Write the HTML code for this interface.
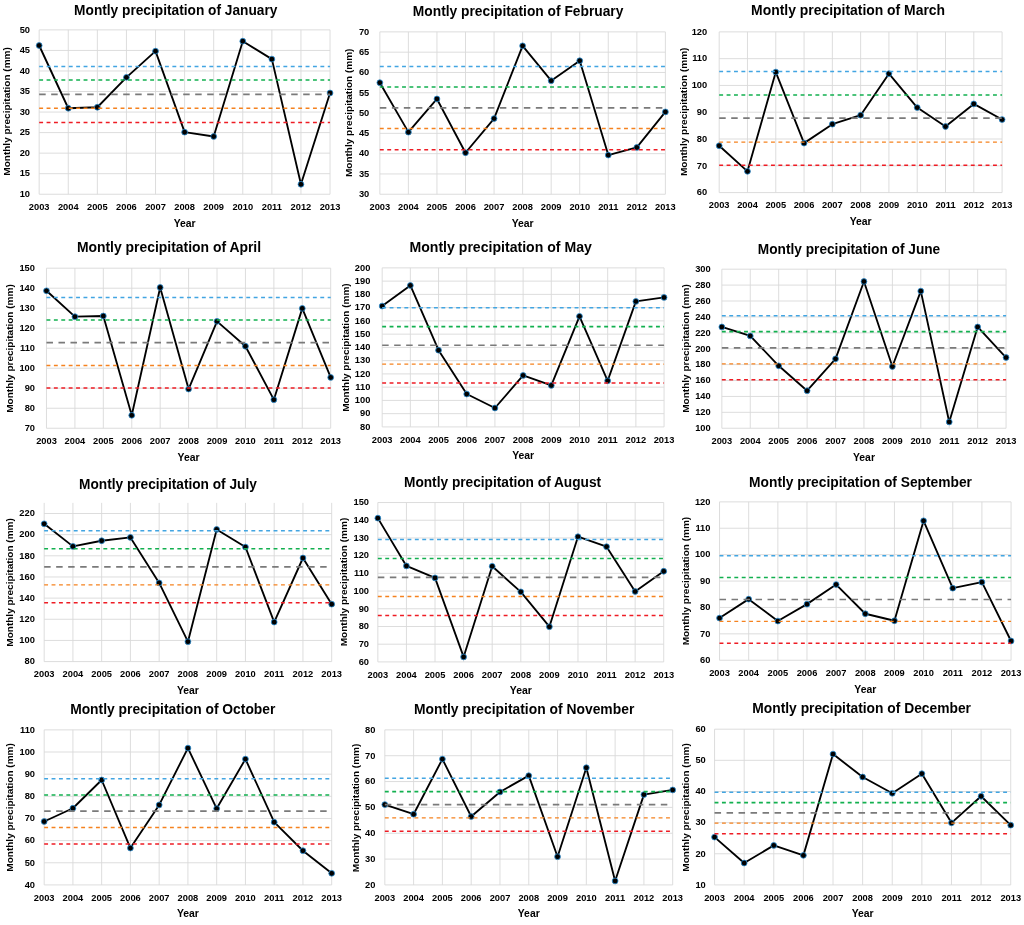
<!DOCTYPE html>
<html><head><meta charset="utf-8"><title>Monthly precipitation</title>
<style>
html,body{margin:0;padding:0;background:#fff;}
body{width:1024px;height:925px;overflow:hidden;}
svg{display:block;}
.gr{stroke:#d9d9d9;stroke-width:0.9;}
.tk{font-family:"Liberation Sans", Arial, sans-serif;font-weight:bold;font-size:9.3px;fill:#000;}
.yr{font-family:"Liberation Sans", Arial, sans-serif;font-weight:bold;font-size:10.4px;fill:#000;}
.yt{font-family:"Liberation Sans", Arial, sans-serif;font-weight:bold;font-size:9.3px;fill:#000;}
.ti{font-family:"Liberation Sans", Arial, sans-serif;font-weight:bold;font-size:14px;fill:#000;}
.ln{fill:none;stroke:#000;stroke-width:1.85;stroke-linejoin:round;}
.mk{fill:#000;stroke:#2a8fd6;stroke-width:0.8;}
</style></head>
<body>
<svg width="1024" height="925" viewBox="0 0 1024 925">
<rect width="1024" height="925" fill="#fff"/>
<g><line x1="39.18" y1="194.24" x2="330.04" y2="194.24" class="gr"/>
<line x1="39.18" y1="173.69" x2="330.04" y2="173.69" class="gr"/>
<line x1="39.18" y1="153.15" x2="330.04" y2="153.15" class="gr"/>
<line x1="39.18" y1="132.6" x2="330.04" y2="132.6" class="gr"/>
<line x1="39.18" y1="112.06" x2="330.04" y2="112.06" class="gr"/>
<line x1="39.18" y1="91.52" x2="330.04" y2="91.52" class="gr"/>
<line x1="39.18" y1="70.97" x2="330.04" y2="70.97" class="gr"/>
<line x1="39.18" y1="50.43" x2="330.04" y2="50.43" class="gr"/>
<line x1="39.18" y1="29.88" x2="330.04" y2="29.88" class="gr"/>
<line x1="39.18" y1="29.88" x2="39.18" y2="194.24" class="gr"/>
<line x1="68.27" y1="29.88" x2="68.27" y2="194.24" class="gr"/>
<line x1="97.35" y1="29.88" x2="97.35" y2="194.24" class="gr"/>
<line x1="126.44" y1="29.88" x2="126.44" y2="194.24" class="gr"/>
<line x1="155.52" y1="29.88" x2="155.52" y2="194.24" class="gr"/>
<line x1="184.61" y1="29.88" x2="184.61" y2="194.24" class="gr"/>
<line x1="213.7" y1="29.88" x2="213.7" y2="194.24" class="gr"/>
<line x1="242.78" y1="29.88" x2="242.78" y2="194.24" class="gr"/>
<line x1="271.87" y1="29.88" x2="271.87" y2="194.24" class="gr"/>
<line x1="300.95" y1="29.88" x2="300.95" y2="194.24" class="gr"/>
<line x1="330.04" y1="29.88" x2="330.04" y2="194.24" class="gr"/>
<text x="29.98" y="197.04" class="tk" text-anchor="end">10</text>
<text x="29.98" y="176.49" class="tk" text-anchor="end">15</text>
<text x="29.98" y="155.95" class="tk" text-anchor="end">20</text>
<text x="29.98" y="135.4" class="tk" text-anchor="end">25</text>
<text x="29.98" y="114.86" class="tk" text-anchor="end">30</text>
<text x="29.98" y="94.32" class="tk" text-anchor="end">35</text>
<text x="29.98" y="73.77" class="tk" text-anchor="end">40</text>
<text x="29.98" y="53.23" class="tk" text-anchor="end">45</text>
<text x="29.98" y="32.68" class="tk" text-anchor="end">50</text>
<text x="39.18" y="209.84" class="tk" text-anchor="middle">2003</text>
<text x="68.27" y="209.84" class="tk" text-anchor="middle">2004</text>
<text x="97.35" y="209.84" class="tk" text-anchor="middle">2005</text>
<text x="126.44" y="209.84" class="tk" text-anchor="middle">2006</text>
<text x="155.52" y="209.84" class="tk" text-anchor="middle">2007</text>
<text x="184.61" y="209.84" class="tk" text-anchor="middle">2008</text>
<text x="213.7" y="209.84" class="tk" text-anchor="middle">2009</text>
<text x="242.78" y="209.84" class="tk" text-anchor="middle">2010</text>
<text x="271.87" y="209.84" class="tk" text-anchor="middle">2011</text>
<text x="300.95" y="209.84" class="tk" text-anchor="middle">2012</text>
<text x="330.04" y="209.84" class="tk" text-anchor="middle">2013</text>
<text x="184.61" y="226.74" class="yr" text-anchor="middle">Year</text>
<text transform="translate(9.8 111.4) rotate(-90)" class="yt" text-anchor="middle" textLength="128.5" lengthAdjust="spacingAndGlyphs">Monthly precipitation (mm)</text>
<text x="74.1" y="14.5" class="ti" textLength="203.3" lengthAdjust="spacingAndGlyphs">Montly precipitation of January</text>
<polyline points="39.18,45.49 68.27,108.24 97.35,107.25 126.44,77.36 155.52,51.13 184.61,132.15 213.7,136.46 242.78,41.17 271.87,59.1 300.95,184.28 330.04,92.97" class="ln"/>
<circle cx="39.18" cy="45.49" r="2.9" class="mk"/>
<circle cx="68.27" cy="108.24" r="2.9" class="mk"/>
<circle cx="97.35" cy="107.25" r="2.9" class="mk"/>
<circle cx="126.44" cy="77.36" r="2.9" class="mk"/>
<circle cx="155.52" cy="51.13" r="2.9" class="mk"/>
<circle cx="184.61" cy="132.15" r="2.9" class="mk"/>
<circle cx="213.7" cy="136.46" r="2.9" class="mk"/>
<circle cx="242.78" cy="41.17" r="2.9" class="mk"/>
<circle cx="271.87" cy="59.1" r="2.9" class="mk"/>
<circle cx="300.95" cy="184.28" r="2.9" class="mk"/>
<circle cx="330.04" cy="92.97" r="2.9" class="mk"/>
<line x1="39.18" y1="66.41" x2="330.04" y2="66.41" stroke="#42a5e2" stroke-width="1.5" stroke-dasharray="3.9 3.5"/>
<line x1="39.18" y1="80.02" x2="330.04" y2="80.02" stroke="#12b04f" stroke-width="1.6" stroke-dasharray="3.9 3.5"/>
<line x1="39.18" y1="94.3" x2="330.04" y2="94.3" stroke="#7a7a7a" stroke-width="1.7" stroke-dasharray="6.5 5.5"/>
<line x1="39.18" y1="108.24" x2="330.04" y2="108.24" stroke="#f5821f" stroke-width="1.4" stroke-dasharray="3.9 3.5"/>
<line x1="39.18" y1="122.52" x2="330.04" y2="122.52" stroke="#ee1c24" stroke-width="1.5" stroke-dasharray="3.9 3.5"/></g>
<g><line x1="379.84" y1="194.24" x2="665.39" y2="194.24" class="gr"/>
<line x1="379.84" y1="173.94" x2="665.39" y2="173.94" class="gr"/>
<line x1="379.84" y1="153.65" x2="665.39" y2="153.65" class="gr"/>
<line x1="379.84" y1="133.35" x2="665.39" y2="133.35" class="gr"/>
<line x1="379.84" y1="113.06" x2="665.39" y2="113.06" class="gr"/>
<line x1="379.84" y1="92.76" x2="665.39" y2="92.76" class="gr"/>
<line x1="379.84" y1="72.47" x2="665.39" y2="72.47" class="gr"/>
<line x1="379.84" y1="52.17" x2="665.39" y2="52.17" class="gr"/>
<line x1="379.84" y1="31.88" x2="665.39" y2="31.88" class="gr"/>
<line x1="379.84" y1="31.88" x2="379.84" y2="194.24" class="gr"/>
<line x1="408.4" y1="31.88" x2="408.4" y2="194.24" class="gr"/>
<line x1="436.95" y1="31.88" x2="436.95" y2="194.24" class="gr"/>
<line x1="465.51" y1="31.88" x2="465.51" y2="194.24" class="gr"/>
<line x1="494.06" y1="31.88" x2="494.06" y2="194.24" class="gr"/>
<line x1="522.62" y1="31.88" x2="522.62" y2="194.24" class="gr"/>
<line x1="551.17" y1="31.88" x2="551.17" y2="194.24" class="gr"/>
<line x1="579.73" y1="31.88" x2="579.73" y2="194.24" class="gr"/>
<line x1="608.28" y1="31.88" x2="608.28" y2="194.24" class="gr"/>
<line x1="636.84" y1="31.88" x2="636.84" y2="194.24" class="gr"/>
<line x1="665.39" y1="31.88" x2="665.39" y2="194.24" class="gr"/>
<text x="369.24" y="197.04" class="tk" text-anchor="end">30</text>
<text x="369.24" y="176.74" class="tk" text-anchor="end">35</text>
<text x="369.24" y="156.45" class="tk" text-anchor="end">40</text>
<text x="369.24" y="136.15" class="tk" text-anchor="end">45</text>
<text x="369.24" y="115.86" class="tk" text-anchor="end">50</text>
<text x="369.24" y="95.56" class="tk" text-anchor="end">55</text>
<text x="369.24" y="75.27" class="tk" text-anchor="end">60</text>
<text x="369.24" y="54.97" class="tk" text-anchor="end">65</text>
<text x="369.24" y="34.67" class="tk" text-anchor="end">70</text>
<text x="379.84" y="209.84" class="tk" text-anchor="middle">2003</text>
<text x="408.4" y="209.84" class="tk" text-anchor="middle">2004</text>
<text x="436.95" y="209.84" class="tk" text-anchor="middle">2005</text>
<text x="465.51" y="209.84" class="tk" text-anchor="middle">2006</text>
<text x="494.06" y="209.84" class="tk" text-anchor="middle">2007</text>
<text x="522.62" y="209.84" class="tk" text-anchor="middle">2008</text>
<text x="551.17" y="209.84" class="tk" text-anchor="middle">2009</text>
<text x="579.73" y="209.84" class="tk" text-anchor="middle">2010</text>
<text x="608.28" y="209.84" class="tk" text-anchor="middle">2011</text>
<text x="636.84" y="209.84" class="tk" text-anchor="middle">2012</text>
<text x="665.39" y="209.84" class="tk" text-anchor="middle">2013</text>
<text x="522.62" y="226.74" class="yr" text-anchor="middle">Year</text>
<text transform="translate(351.5 112.8) rotate(-90)" class="yt" text-anchor="middle" textLength="128.5" lengthAdjust="spacingAndGlyphs">Monthly precipitation (mm)</text>
<text x="412.85" y="16" class="ti" textLength="210.55" lengthAdjust="spacingAndGlyphs">Montly precipitation of February</text>
<polyline points="379.84,82.68 408.4,132.15 436.95,98.95 465.51,152.73 494.06,118.54 522.62,45.82 551.17,80.68 579.73,60.76 608.28,155.06 636.84,147.42 665.39,111.89" class="ln"/>
<circle cx="379.84" cy="82.68" r="2.9" class="mk"/>
<circle cx="408.4" cy="132.15" r="2.9" class="mk"/>
<circle cx="436.95" cy="98.95" r="2.9" class="mk"/>
<circle cx="465.51" cy="152.73" r="2.9" class="mk"/>
<circle cx="494.06" cy="118.54" r="2.9" class="mk"/>
<circle cx="522.62" cy="45.82" r="2.9" class="mk"/>
<circle cx="551.17" cy="80.68" r="2.9" class="mk"/>
<circle cx="579.73" cy="60.76" r="2.9" class="mk"/>
<circle cx="608.28" cy="155.06" r="2.9" class="mk"/>
<circle cx="636.84" cy="147.42" r="2.9" class="mk"/>
<circle cx="665.39" cy="111.89" r="2.9" class="mk"/>
<line x1="379.84" y1="66.41" x2="665.39" y2="66.41" stroke="#42a5e2" stroke-width="1.5" stroke-dasharray="3.9 3.5"/>
<line x1="379.84" y1="86.99" x2="665.39" y2="86.99" stroke="#12b04f" stroke-width="1.6" stroke-dasharray="3.9 3.5"/>
<line x1="379.84" y1="107.91" x2="665.39" y2="107.91" stroke="#7a7a7a" stroke-width="1.7" stroke-dasharray="6.5 5.5"/>
<line x1="379.84" y1="128.5" x2="665.39" y2="128.5" stroke="#f5821f" stroke-width="1.4" stroke-dasharray="3.9 3.5"/>
<line x1="379.84" y1="149.75" x2="665.39" y2="149.75" stroke="#ee1c24" stroke-width="1.5" stroke-dasharray="3.9 3.5"/></g>
<g><line x1="719.2" y1="192.58" x2="1002.09" y2="192.58" class="gr"/>
<line x1="719.2" y1="165.79" x2="1002.09" y2="165.79" class="gr"/>
<line x1="719.2" y1="139.01" x2="1002.09" y2="139.01" class="gr"/>
<line x1="719.2" y1="112.23" x2="1002.09" y2="112.23" class="gr"/>
<line x1="719.2" y1="85.44" x2="1002.09" y2="85.44" class="gr"/>
<line x1="719.2" y1="58.66" x2="1002.09" y2="58.66" class="gr"/>
<line x1="719.2" y1="31.88" x2="1002.09" y2="31.88" class="gr"/>
<line x1="719.2" y1="31.88" x2="719.2" y2="192.58" class="gr"/>
<line x1="747.48" y1="31.88" x2="747.48" y2="192.58" class="gr"/>
<line x1="775.77" y1="31.88" x2="775.77" y2="192.58" class="gr"/>
<line x1="804.06" y1="31.88" x2="804.06" y2="192.58" class="gr"/>
<line x1="832.35" y1="31.88" x2="832.35" y2="192.58" class="gr"/>
<line x1="860.64" y1="31.88" x2="860.64" y2="192.58" class="gr"/>
<line x1="888.93" y1="31.88" x2="888.93" y2="192.58" class="gr"/>
<line x1="917.22" y1="31.88" x2="917.22" y2="192.58" class="gr"/>
<line x1="945.51" y1="31.88" x2="945.51" y2="192.58" class="gr"/>
<line x1="973.8" y1="31.88" x2="973.8" y2="192.58" class="gr"/>
<line x1="1002.09" y1="31.88" x2="1002.09" y2="192.58" class="gr"/>
<text x="707.2" y="195.38" class="tk" text-anchor="end">60</text>
<text x="707.2" y="168.59" class="tk" text-anchor="end">70</text>
<text x="707.2" y="141.81" class="tk" text-anchor="end">80</text>
<text x="707.2" y="115.03" class="tk" text-anchor="end">90</text>
<text x="707.2" y="88.24" class="tk" text-anchor="end">100</text>
<text x="707.2" y="61.46" class="tk" text-anchor="end">110</text>
<text x="707.2" y="34.67" class="tk" text-anchor="end">120</text>
<text x="719.2" y="208.18" class="tk" text-anchor="middle">2003</text>
<text x="747.48" y="208.18" class="tk" text-anchor="middle">2004</text>
<text x="775.77" y="208.18" class="tk" text-anchor="middle">2005</text>
<text x="804.06" y="208.18" class="tk" text-anchor="middle">2006</text>
<text x="832.35" y="208.18" class="tk" text-anchor="middle">2007</text>
<text x="860.64" y="208.18" class="tk" text-anchor="middle">2008</text>
<text x="888.93" y="208.18" class="tk" text-anchor="middle">2009</text>
<text x="917.22" y="208.18" class="tk" text-anchor="middle">2010</text>
<text x="945.51" y="208.18" class="tk" text-anchor="middle">2011</text>
<text x="973.8" y="208.18" class="tk" text-anchor="middle">2012</text>
<text x="1002.09" y="208.18" class="tk" text-anchor="middle">2013</text>
<text x="860.64" y="225.08" class="yr" text-anchor="middle">Year</text>
<text transform="translate(686.7 111.8) rotate(-90)" class="yt" text-anchor="middle" textLength="128.5" lengthAdjust="spacingAndGlyphs">Monthly precipitation (mm)</text>
<text x="751.1" y="15" class="ti" textLength="194" lengthAdjust="spacingAndGlyphs">Montly precipitation of March</text>
<polyline points="719.2,145.76 747.48,171.33 775.77,72.05 804.06,143.11 832.35,124.18 860.64,115.21 888.93,73.71 917.22,107.58 945.51,126.5 973.8,103.93 1002.09,119.53" class="ln"/>
<circle cx="719.2" cy="145.76" r="2.9" class="mk"/>
<circle cx="747.48" cy="171.33" r="2.9" class="mk"/>
<circle cx="775.77" cy="72.05" r="2.9" class="mk"/>
<circle cx="804.06" cy="143.11" r="2.9" class="mk"/>
<circle cx="832.35" cy="124.18" r="2.9" class="mk"/>
<circle cx="860.64" cy="115.21" r="2.9" class="mk"/>
<circle cx="888.93" cy="73.71" r="2.9" class="mk"/>
<circle cx="917.22" cy="107.58" r="2.9" class="mk"/>
<circle cx="945.51" cy="126.5" r="2.9" class="mk"/>
<circle cx="973.8" cy="103.93" r="2.9" class="mk"/>
<circle cx="1002.09" cy="119.53" r="2.9" class="mk"/>
<line x1="719.2" y1="71.39" x2="1002.09" y2="71.39" stroke="#42a5e2" stroke-width="1.5" stroke-dasharray="3.9 3.5"/>
<line x1="719.2" y1="94.96" x2="1002.09" y2="94.96" stroke="#12b04f" stroke-width="1.6" stroke-dasharray="3.9 3.5"/>
<line x1="719.2" y1="118.2" x2="1002.09" y2="118.2" stroke="#7a7a7a" stroke-width="1.7" stroke-dasharray="6.5 5.5"/>
<line x1="719.2" y1="142.11" x2="1002.09" y2="142.11" stroke="#f5821f" stroke-width="1.4" stroke-dasharray="3.9 3.5"/>
<line x1="719.2" y1="165.35" x2="1002.09" y2="165.35" stroke="#ee1c24" stroke-width="1.5" stroke-dasharray="3.9 3.5"/></g>
<g><line x1="46.48" y1="428.24" x2="330.7" y2="428.24" class="gr"/>
<line x1="46.48" y1="408.24" x2="330.7" y2="408.24" class="gr"/>
<line x1="46.48" y1="388.23" x2="330.7" y2="388.23" class="gr"/>
<line x1="46.48" y1="368.23" x2="330.7" y2="368.23" class="gr"/>
<line x1="46.48" y1="348.22" x2="330.7" y2="348.22" class="gr"/>
<line x1="46.48" y1="328.22" x2="330.7" y2="328.22" class="gr"/>
<line x1="46.48" y1="308.21" x2="330.7" y2="308.21" class="gr"/>
<line x1="46.48" y1="288.21" x2="330.7" y2="288.21" class="gr"/>
<line x1="46.48" y1="268.2" x2="330.7" y2="268.2" class="gr"/>
<line x1="46.48" y1="268.2" x2="46.48" y2="428.24" class="gr"/>
<line x1="74.91" y1="268.2" x2="74.91" y2="428.24" class="gr"/>
<line x1="103.33" y1="268.2" x2="103.33" y2="428.24" class="gr"/>
<line x1="131.75" y1="268.2" x2="131.75" y2="428.24" class="gr"/>
<line x1="160.17" y1="268.2" x2="160.17" y2="428.24" class="gr"/>
<line x1="188.59" y1="268.2" x2="188.59" y2="428.24" class="gr"/>
<line x1="217.02" y1="268.2" x2="217.02" y2="428.24" class="gr"/>
<line x1="245.44" y1="268.2" x2="245.44" y2="428.24" class="gr"/>
<line x1="273.86" y1="268.2" x2="273.86" y2="428.24" class="gr"/>
<line x1="302.28" y1="268.2" x2="302.28" y2="428.24" class="gr"/>
<line x1="330.7" y1="268.2" x2="330.7" y2="428.24" class="gr"/>
<text x="34.98" y="431.04" class="tk" text-anchor="end">70</text>
<text x="34.98" y="411.04" class="tk" text-anchor="end">80</text>
<text x="34.98" y="391.03" class="tk" text-anchor="end">90</text>
<text x="34.98" y="371.03" class="tk" text-anchor="end">100</text>
<text x="34.98" y="351.02" class="tk" text-anchor="end">110</text>
<text x="34.98" y="331.02" class="tk" text-anchor="end">120</text>
<text x="34.98" y="311.01" class="tk" text-anchor="end">130</text>
<text x="34.98" y="291.01" class="tk" text-anchor="end">140</text>
<text x="34.98" y="271" class="tk" text-anchor="end">150</text>
<text x="46.48" y="443.84" class="tk" text-anchor="middle">2003</text>
<text x="74.91" y="443.84" class="tk" text-anchor="middle">2004</text>
<text x="103.33" y="443.84" class="tk" text-anchor="middle">2005</text>
<text x="131.75" y="443.84" class="tk" text-anchor="middle">2006</text>
<text x="160.17" y="443.84" class="tk" text-anchor="middle">2007</text>
<text x="188.59" y="443.84" class="tk" text-anchor="middle">2008</text>
<text x="217.02" y="443.84" class="tk" text-anchor="middle">2009</text>
<text x="245.44" y="443.84" class="tk" text-anchor="middle">2010</text>
<text x="273.86" y="443.84" class="tk" text-anchor="middle">2011</text>
<text x="302.28" y="443.84" class="tk" text-anchor="middle">2012</text>
<text x="330.7" y="443.84" class="tk" text-anchor="middle">2013</text>
<text x="188.59" y="460.74" class="yr" text-anchor="middle">Year</text>
<text transform="translate(13.3 348.5) rotate(-90)" class="yt" text-anchor="middle" textLength="128.5" lengthAdjust="spacingAndGlyphs">Monthly precipitation (mm)</text>
<text x="76.9" y="252.2" class="ti" textLength="184.2" lengthAdjust="spacingAndGlyphs">Montly precipitation of April</text>
<polyline points="46.48,290.78 74.91,316.68 103.33,316.02 131.75,415.29 160.17,287.46 188.59,389.06 217.02,321.33 245.44,346.23 273.86,399.69 302.28,308.38 330.7,377.44" class="ln"/>
<circle cx="46.48" cy="290.78" r="2.9" class="mk"/>
<circle cx="74.91" cy="316.68" r="2.9" class="mk"/>
<circle cx="103.33" cy="316.02" r="2.9" class="mk"/>
<circle cx="131.75" cy="415.29" r="2.9" class="mk"/>
<circle cx="160.17" cy="287.46" r="2.9" class="mk"/>
<circle cx="188.59" cy="389.06" r="2.9" class="mk"/>
<circle cx="217.02" cy="321.33" r="2.9" class="mk"/>
<circle cx="245.44" cy="346.23" r="2.9" class="mk"/>
<circle cx="273.86" cy="399.69" r="2.9" class="mk"/>
<circle cx="302.28" cy="308.38" r="2.9" class="mk"/>
<circle cx="330.7" cy="377.44" r="2.9" class="mk"/>
<line x1="46.48" y1="297.42" x2="330.7" y2="297.42" stroke="#42a5e2" stroke-width="1.5" stroke-dasharray="3.9 3.5"/>
<line x1="46.48" y1="320" x2="330.7" y2="320" stroke="#12b04f" stroke-width="1.6" stroke-dasharray="3.9 3.5"/>
<line x1="46.48" y1="342.58" x2="330.7" y2="342.58" stroke="#7a7a7a" stroke-width="1.7" stroke-dasharray="6.5 5.5"/>
<line x1="46.48" y1="365.49" x2="330.7" y2="365.49" stroke="#f5821f" stroke-width="1.4" stroke-dasharray="3.9 3.5"/>
<line x1="46.48" y1="388.07" x2="330.7" y2="388.07" stroke="#ee1c24" stroke-width="1.5" stroke-dasharray="3.9 3.5"/></g>
<g><line x1="382.17" y1="426.91" x2="664.06" y2="426.91" class="gr"/>
<line x1="382.17" y1="413.66" x2="664.06" y2="413.66" class="gr"/>
<line x1="382.17" y1="400.41" x2="664.06" y2="400.41" class="gr"/>
<line x1="382.17" y1="387.15" x2="664.06" y2="387.15" class="gr"/>
<line x1="382.17" y1="373.9" x2="664.06" y2="373.9" class="gr"/>
<line x1="382.17" y1="360.65" x2="664.06" y2="360.65" class="gr"/>
<line x1="382.17" y1="347.39" x2="664.06" y2="347.39" class="gr"/>
<line x1="382.17" y1="334.14" x2="664.06" y2="334.14" class="gr"/>
<line x1="382.17" y1="320.89" x2="664.06" y2="320.89" class="gr"/>
<line x1="382.17" y1="307.63" x2="664.06" y2="307.63" class="gr"/>
<line x1="382.17" y1="294.38" x2="664.06" y2="294.38" class="gr"/>
<line x1="382.17" y1="281.12" x2="664.06" y2="281.12" class="gr"/>
<line x1="382.17" y1="267.87" x2="664.06" y2="267.87" class="gr"/>
<line x1="382.17" y1="267.87" x2="382.17" y2="426.91" class="gr"/>
<line x1="410.36" y1="267.87" x2="410.36" y2="426.91" class="gr"/>
<line x1="438.55" y1="267.87" x2="438.55" y2="426.91" class="gr"/>
<line x1="466.74" y1="267.87" x2="466.74" y2="426.91" class="gr"/>
<line x1="494.93" y1="267.87" x2="494.93" y2="426.91" class="gr"/>
<line x1="523.12" y1="267.87" x2="523.12" y2="426.91" class="gr"/>
<line x1="551.3" y1="267.87" x2="551.3" y2="426.91" class="gr"/>
<line x1="579.49" y1="267.87" x2="579.49" y2="426.91" class="gr"/>
<line x1="607.68" y1="267.87" x2="607.68" y2="426.91" class="gr"/>
<line x1="635.87" y1="267.87" x2="635.87" y2="426.91" class="gr"/>
<line x1="664.06" y1="267.87" x2="664.06" y2="426.91" class="gr"/>
<text x="370.37" y="429.71" class="tk" text-anchor="end">80</text>
<text x="370.37" y="416.46" class="tk" text-anchor="end">90</text>
<text x="370.37" y="403.21" class="tk" text-anchor="end">100</text>
<text x="370.37" y="389.95" class="tk" text-anchor="end">110</text>
<text x="370.37" y="376.7" class="tk" text-anchor="end">120</text>
<text x="370.37" y="363.45" class="tk" text-anchor="end">130</text>
<text x="370.37" y="350.19" class="tk" text-anchor="end">140</text>
<text x="370.37" y="336.94" class="tk" text-anchor="end">150</text>
<text x="370.37" y="323.69" class="tk" text-anchor="end">160</text>
<text x="370.37" y="310.43" class="tk" text-anchor="end">170</text>
<text x="370.37" y="297.18" class="tk" text-anchor="end">180</text>
<text x="370.37" y="283.92" class="tk" text-anchor="end">190</text>
<text x="370.37" y="270.67" class="tk" text-anchor="end">200</text>
<text x="382.17" y="442.51" class="tk" text-anchor="middle">2003</text>
<text x="410.36" y="442.51" class="tk" text-anchor="middle">2004</text>
<text x="438.55" y="442.51" class="tk" text-anchor="middle">2005</text>
<text x="466.74" y="442.51" class="tk" text-anchor="middle">2006</text>
<text x="494.93" y="442.51" class="tk" text-anchor="middle">2007</text>
<text x="523.12" y="442.51" class="tk" text-anchor="middle">2008</text>
<text x="551.3" y="442.51" class="tk" text-anchor="middle">2009</text>
<text x="579.49" y="442.51" class="tk" text-anchor="middle">2010</text>
<text x="607.68" y="442.51" class="tk" text-anchor="middle">2011</text>
<text x="635.87" y="442.51" class="tk" text-anchor="middle">2012</text>
<text x="664.06" y="442.51" class="tk" text-anchor="middle">2013</text>
<text x="523.12" y="459.41" class="yr" text-anchor="middle">Year</text>
<text transform="translate(349.1 347.6) rotate(-90)" class="yt" text-anchor="middle" textLength="128.5" lengthAdjust="spacingAndGlyphs">Monthly precipitation (mm)</text>
<text x="409.5" y="252.2" class="ti" textLength="182.3" lengthAdjust="spacingAndGlyphs">Montly precipitation of May</text>
<polyline points="382.17,306.05 410.36,285.47 438.55,350.21 466.74,394.04 494.93,407.99 523.12,375.45 551.3,385.41 579.49,316.35 607.68,380.76 635.87,301.41 664.06,297.42" class="ln"/>
<circle cx="382.17" cy="306.05" r="2.9" class="mk"/>
<circle cx="410.36" cy="285.47" r="2.9" class="mk"/>
<circle cx="438.55" cy="350.21" r="2.9" class="mk"/>
<circle cx="466.74" cy="394.04" r="2.9" class="mk"/>
<circle cx="494.93" cy="407.99" r="2.9" class="mk"/>
<circle cx="523.12" cy="375.45" r="2.9" class="mk"/>
<circle cx="551.3" cy="385.41" r="2.9" class="mk"/>
<circle cx="579.49" cy="316.35" r="2.9" class="mk"/>
<circle cx="607.68" cy="380.76" r="2.9" class="mk"/>
<circle cx="635.87" cy="301.41" r="2.9" class="mk"/>
<circle cx="664.06" cy="297.42" r="2.9" class="mk"/>
<line x1="382.17" y1="307.71" x2="664.06" y2="307.71" stroke="#42a5e2" stroke-width="1.5" stroke-dasharray="3.9 3.5"/>
<line x1="382.17" y1="326.64" x2="664.06" y2="326.64" stroke="#12b04f" stroke-width="1.6" stroke-dasharray="3.9 3.5"/>
<line x1="382.17" y1="345.23" x2="664.06" y2="345.23" stroke="#7a7a7a" stroke-width="1.7" stroke-dasharray="6.5 5.5"/>
<line x1="382.17" y1="364.16" x2="664.06" y2="364.16" stroke="#f5821f" stroke-width="1.4" stroke-dasharray="3.9 3.5"/>
<line x1="382.17" y1="383.09" x2="664.06" y2="383.09" stroke="#ee1c24" stroke-width="1.5" stroke-dasharray="3.9 3.5"/></g>
<g><line x1="721.85" y1="428.24" x2="1006.07" y2="428.24" class="gr"/>
<line x1="721.85" y1="412.34" x2="1006.07" y2="412.34" class="gr"/>
<line x1="721.85" y1="396.43" x2="1006.07" y2="396.43" class="gr"/>
<line x1="721.85" y1="380.53" x2="1006.07" y2="380.53" class="gr"/>
<line x1="721.85" y1="364.62" x2="1006.07" y2="364.62" class="gr"/>
<line x1="721.85" y1="348.72" x2="1006.07" y2="348.72" class="gr"/>
<line x1="721.85" y1="332.82" x2="1006.07" y2="332.82" class="gr"/>
<line x1="721.85" y1="316.91" x2="1006.07" y2="316.91" class="gr"/>
<line x1="721.85" y1="301.01" x2="1006.07" y2="301.01" class="gr"/>
<line x1="721.85" y1="285.1" x2="1006.07" y2="285.1" class="gr"/>
<line x1="721.85" y1="269.2" x2="1006.07" y2="269.2" class="gr"/>
<line x1="721.85" y1="269.2" x2="721.85" y2="428.24" class="gr"/>
<line x1="750.27" y1="269.2" x2="750.27" y2="428.24" class="gr"/>
<line x1="778.7" y1="269.2" x2="778.7" y2="428.24" class="gr"/>
<line x1="807.12" y1="269.2" x2="807.12" y2="428.24" class="gr"/>
<line x1="835.54" y1="269.2" x2="835.54" y2="428.24" class="gr"/>
<line x1="863.96" y1="269.2" x2="863.96" y2="428.24" class="gr"/>
<line x1="892.38" y1="269.2" x2="892.38" y2="428.24" class="gr"/>
<line x1="920.8" y1="269.2" x2="920.8" y2="428.24" class="gr"/>
<line x1="949.23" y1="269.2" x2="949.23" y2="428.24" class="gr"/>
<line x1="977.65" y1="269.2" x2="977.65" y2="428.24" class="gr"/>
<line x1="1006.07" y1="269.2" x2="1006.07" y2="428.24" class="gr"/>
<text x="710.65" y="431.04" class="tk" text-anchor="end">100</text>
<text x="710.65" y="415.14" class="tk" text-anchor="end">120</text>
<text x="710.65" y="399.23" class="tk" text-anchor="end">140</text>
<text x="710.65" y="383.33" class="tk" text-anchor="end">160</text>
<text x="710.65" y="367.43" class="tk" text-anchor="end">180</text>
<text x="710.65" y="351.52" class="tk" text-anchor="end">200</text>
<text x="710.65" y="335.62" class="tk" text-anchor="end">220</text>
<text x="710.65" y="319.71" class="tk" text-anchor="end">240</text>
<text x="710.65" y="303.81" class="tk" text-anchor="end">260</text>
<text x="710.65" y="287.9" class="tk" text-anchor="end">280</text>
<text x="710.65" y="272" class="tk" text-anchor="end">300</text>
<text x="721.85" y="443.84" class="tk" text-anchor="middle">2003</text>
<text x="750.27" y="443.84" class="tk" text-anchor="middle">2004</text>
<text x="778.7" y="443.84" class="tk" text-anchor="middle">2005</text>
<text x="807.12" y="443.84" class="tk" text-anchor="middle">2006</text>
<text x="835.54" y="443.84" class="tk" text-anchor="middle">2007</text>
<text x="863.96" y="443.84" class="tk" text-anchor="middle">2008</text>
<text x="892.38" y="443.84" class="tk" text-anchor="middle">2009</text>
<text x="920.8" y="443.84" class="tk" text-anchor="middle">2010</text>
<text x="949.23" y="443.84" class="tk" text-anchor="middle">2011</text>
<text x="977.65" y="443.84" class="tk" text-anchor="middle">2012</text>
<text x="1006.07" y="443.84" class="tk" text-anchor="middle">2013</text>
<text x="863.96" y="460.74" class="yr" text-anchor="middle">Year</text>
<text transform="translate(688.9 348.5) rotate(-90)" class="yt" text-anchor="middle" textLength="128.5" lengthAdjust="spacingAndGlyphs">Monthly precipitation (mm)</text>
<text x="757.85" y="253.6" class="ti" textLength="182.35" lengthAdjust="spacingAndGlyphs">Montly precipitation of June</text>
<polyline points="721.85,326.97 750.27,335.94 778.7,365.82 807.12,390.72 835.54,358.85 863.96,281.48 892.38,366.48 920.8,291.11 949.23,421.93 977.65,326.97 1006.07,357.52" class="ln"/>
<circle cx="721.85" cy="326.97" r="2.9" class="mk"/>
<circle cx="750.27" cy="335.94" r="2.9" class="mk"/>
<circle cx="778.7" cy="365.82" r="2.9" class="mk"/>
<circle cx="807.12" cy="390.72" r="2.9" class="mk"/>
<circle cx="835.54" cy="358.85" r="2.9" class="mk"/>
<circle cx="863.96" cy="281.48" r="2.9" class="mk"/>
<circle cx="892.38" cy="366.48" r="2.9" class="mk"/>
<circle cx="920.8" cy="291.11" r="2.9" class="mk"/>
<circle cx="949.23" cy="421.93" r="2.9" class="mk"/>
<circle cx="977.65" cy="326.97" r="2.9" class="mk"/>
<circle cx="1006.07" cy="357.52" r="2.9" class="mk"/>
<line x1="721.85" y1="315.68" x2="1006.07" y2="315.68" stroke="#42a5e2" stroke-width="1.5" stroke-dasharray="3.9 3.5"/>
<line x1="721.85" y1="331.62" x2="1006.07" y2="331.62" stroke="#12b04f" stroke-width="1.6" stroke-dasharray="3.9 3.5"/>
<line x1="721.85" y1="347.89" x2="1006.07" y2="347.89" stroke="#7a7a7a" stroke-width="1.7" stroke-dasharray="6.5 5.5"/>
<line x1="721.85" y1="363.83" x2="1006.07" y2="363.83" stroke="#f5821f" stroke-width="1.4" stroke-dasharray="3.9 3.5"/>
<line x1="721.85" y1="379.77" x2="1006.07" y2="379.77" stroke="#ee1c24" stroke-width="1.5" stroke-dasharray="3.9 3.5"/></g>
<g><line x1="44.16" y1="661.59" x2="331.7" y2="661.59" class="gr"/>
<line x1="44.16" y1="640.43" x2="331.7" y2="640.43" class="gr"/>
<line x1="44.16" y1="619.28" x2="331.7" y2="619.28" class="gr"/>
<line x1="44.16" y1="598.12" x2="331.7" y2="598.12" class="gr"/>
<line x1="44.16" y1="576.97" x2="331.7" y2="576.97" class="gr"/>
<line x1="44.16" y1="555.81" x2="331.7" y2="555.81" class="gr"/>
<line x1="44.16" y1="534.66" x2="331.7" y2="534.66" class="gr"/>
<line x1="44.16" y1="513.5" x2="331.7" y2="513.5" class="gr"/>
<line x1="44.16" y1="502.88" x2="44.16" y2="661.59" class="gr"/>
<line x1="72.91" y1="502.88" x2="72.91" y2="661.59" class="gr"/>
<line x1="101.67" y1="502.88" x2="101.67" y2="661.59" class="gr"/>
<line x1="130.42" y1="502.88" x2="130.42" y2="661.59" class="gr"/>
<line x1="159.18" y1="502.88" x2="159.18" y2="661.59" class="gr"/>
<line x1="187.93" y1="502.88" x2="187.93" y2="661.59" class="gr"/>
<line x1="216.68" y1="502.88" x2="216.68" y2="661.59" class="gr"/>
<line x1="245.44" y1="502.88" x2="245.44" y2="661.59" class="gr"/>
<line x1="274.19" y1="502.88" x2="274.19" y2="661.59" class="gr"/>
<line x1="302.95" y1="502.88" x2="302.95" y2="661.59" class="gr"/>
<line x1="331.7" y1="502.88" x2="331.7" y2="661.59" class="gr"/>
<text x="34.86" y="664.39" class="tk" text-anchor="end">80</text>
<text x="34.86" y="643.23" class="tk" text-anchor="end">100</text>
<text x="34.86" y="622.08" class="tk" text-anchor="end">120</text>
<text x="34.86" y="600.92" class="tk" text-anchor="end">140</text>
<text x="34.86" y="579.77" class="tk" text-anchor="end">160</text>
<text x="34.86" y="558.61" class="tk" text-anchor="end">180</text>
<text x="34.86" y="537.46" class="tk" text-anchor="end">200</text>
<text x="34.86" y="516.3" class="tk" text-anchor="end">220</text>
<text x="44.16" y="677.19" class="tk" text-anchor="middle">2003</text>
<text x="72.91" y="677.19" class="tk" text-anchor="middle">2004</text>
<text x="101.67" y="677.19" class="tk" text-anchor="middle">2005</text>
<text x="130.42" y="677.19" class="tk" text-anchor="middle">2006</text>
<text x="159.18" y="677.19" class="tk" text-anchor="middle">2007</text>
<text x="187.93" y="677.19" class="tk" text-anchor="middle">2008</text>
<text x="216.68" y="677.19" class="tk" text-anchor="middle">2009</text>
<text x="245.44" y="677.19" class="tk" text-anchor="middle">2010</text>
<text x="274.19" y="677.19" class="tk" text-anchor="middle">2011</text>
<text x="302.95" y="677.19" class="tk" text-anchor="middle">2012</text>
<text x="331.7" y="677.19" class="tk" text-anchor="middle">2013</text>
<text x="187.93" y="694.09" class="yr" text-anchor="middle">Year</text>
<text transform="translate(13.4 582.4) rotate(-90)" class="yt" text-anchor="middle" textLength="128.5" lengthAdjust="spacingAndGlyphs">Monthly precipitation (mm)</text>
<text x="79.1" y="489.3" class="ti" textLength="177.7" lengthAdjust="spacingAndGlyphs">Montly precipitation of July</text>
<polyline points="44.16,523.8 72.91,546.38 101.67,540.73 130.42,537.41 159.18,582.9 187.93,641.67 216.68,529.44 245.44,547.04 274.19,622.08 302.95,558 331.7,604.15" class="ln"/>
<circle cx="44.16" cy="523.8" r="2.9" class="mk"/>
<circle cx="72.91" cy="546.38" r="2.9" class="mk"/>
<circle cx="101.67" cy="540.73" r="2.9" class="mk"/>
<circle cx="130.42" cy="537.41" r="2.9" class="mk"/>
<circle cx="159.18" cy="582.9" r="2.9" class="mk"/>
<circle cx="187.93" cy="641.67" r="2.9" class="mk"/>
<circle cx="216.68" cy="529.44" r="2.9" class="mk"/>
<circle cx="245.44" cy="547.04" r="2.9" class="mk"/>
<circle cx="274.19" cy="622.08" r="2.9" class="mk"/>
<circle cx="302.95" cy="558" r="2.9" class="mk"/>
<circle cx="331.7" cy="604.15" r="2.9" class="mk"/>
<line x1="44.16" y1="530.77" x2="331.7" y2="530.77" stroke="#42a5e2" stroke-width="1.5" stroke-dasharray="3.9 3.5"/>
<line x1="44.16" y1="548.7" x2="331.7" y2="548.7" stroke="#12b04f" stroke-width="1.6" stroke-dasharray="3.9 3.5"/>
<line x1="44.16" y1="566.96" x2="331.7" y2="566.96" stroke="#7a7a7a" stroke-width="1.7" stroke-dasharray="6.5 5.5"/>
<line x1="44.16" y1="584.89" x2="331.7" y2="584.89" stroke="#f5821f" stroke-width="1.4" stroke-dasharray="3.9 3.5"/>
<line x1="44.16" y1="602.82" x2="331.7" y2="602.82" stroke="#ee1c24" stroke-width="1.5" stroke-dasharray="3.9 3.5"/></g>
<g><line x1="377.85" y1="661.9" x2="663.73" y2="661.9" class="gr"/>
<line x1="377.85" y1="644.19" x2="663.73" y2="644.19" class="gr"/>
<line x1="377.85" y1="626.49" x2="663.73" y2="626.49" class="gr"/>
<line x1="377.85" y1="608.78" x2="663.73" y2="608.78" class="gr"/>
<line x1="377.85" y1="591.07" x2="663.73" y2="591.07" class="gr"/>
<line x1="377.85" y1="573.36" x2="663.73" y2="573.36" class="gr"/>
<line x1="377.85" y1="555.65" x2="663.73" y2="555.65" class="gr"/>
<line x1="377.85" y1="537.94" x2="663.73" y2="537.94" class="gr"/>
<line x1="377.85" y1="520.24" x2="663.73" y2="520.24" class="gr"/>
<line x1="377.85" y1="502.53" x2="663.73" y2="502.53" class="gr"/>
<line x1="377.85" y1="502.53" x2="377.85" y2="661.9" class="gr"/>
<line x1="406.44" y1="502.53" x2="406.44" y2="661.9" class="gr"/>
<line x1="435.03" y1="502.53" x2="435.03" y2="661.9" class="gr"/>
<line x1="463.62" y1="502.53" x2="463.62" y2="661.9" class="gr"/>
<line x1="492.2" y1="502.53" x2="492.2" y2="661.9" class="gr"/>
<line x1="520.79" y1="502.53" x2="520.79" y2="661.9" class="gr"/>
<line x1="549.38" y1="502.53" x2="549.38" y2="661.9" class="gr"/>
<line x1="577.97" y1="502.53" x2="577.97" y2="661.9" class="gr"/>
<line x1="606.55" y1="502.53" x2="606.55" y2="661.9" class="gr"/>
<line x1="635.14" y1="502.53" x2="635.14" y2="661.9" class="gr"/>
<line x1="663.73" y1="502.53" x2="663.73" y2="661.9" class="gr"/>
<text x="369.05" y="664.7" class="tk" text-anchor="end">60</text>
<text x="369.05" y="646.99" class="tk" text-anchor="end">70</text>
<text x="369.05" y="629.29" class="tk" text-anchor="end">80</text>
<text x="369.05" y="611.58" class="tk" text-anchor="end">90</text>
<text x="369.05" y="593.87" class="tk" text-anchor="end">100</text>
<text x="369.05" y="576.16" class="tk" text-anchor="end">110</text>
<text x="369.05" y="558.45" class="tk" text-anchor="end">120</text>
<text x="369.05" y="540.74" class="tk" text-anchor="end">130</text>
<text x="369.05" y="523.04" class="tk" text-anchor="end">140</text>
<text x="369.05" y="505.33" class="tk" text-anchor="end">150</text>
<text x="377.85" y="677.5" class="tk" text-anchor="middle">2003</text>
<text x="406.44" y="677.5" class="tk" text-anchor="middle">2004</text>
<text x="435.03" y="677.5" class="tk" text-anchor="middle">2005</text>
<text x="463.62" y="677.5" class="tk" text-anchor="middle">2006</text>
<text x="492.2" y="677.5" class="tk" text-anchor="middle">2007</text>
<text x="520.79" y="677.5" class="tk" text-anchor="middle">2008</text>
<text x="549.38" y="677.5" class="tk" text-anchor="middle">2009</text>
<text x="577.97" y="677.5" class="tk" text-anchor="middle">2010</text>
<text x="606.55" y="677.5" class="tk" text-anchor="middle">2011</text>
<text x="635.14" y="677.5" class="tk" text-anchor="middle">2012</text>
<text x="663.73" y="677.5" class="tk" text-anchor="middle">2013</text>
<text x="520.79" y="694.4" class="yr" text-anchor="middle">Year</text>
<text transform="translate(346.6 582) rotate(-90)" class="yt" text-anchor="middle" textLength="128.5" lengthAdjust="spacingAndGlyphs">Monthly precipitation (mm)</text>
<text x="404" y="486.5" class="ti" textLength="197.1" lengthAdjust="spacingAndGlyphs">Montly precipitation of August</text>
<polyline points="377.85,518.13 406.44,565.95 435.03,577.9 463.62,656.92 492.2,566.28 520.79,591.84 549.38,626.71 577.97,536.73 606.55,546.69 635.14,591.51 663.73,571.26" class="ln"/>
<circle cx="377.85" cy="518.13" r="2.9" class="mk"/>
<circle cx="406.44" cy="565.95" r="2.9" class="mk"/>
<circle cx="435.03" cy="577.9" r="2.9" class="mk"/>
<circle cx="463.62" cy="656.92" r="2.9" class="mk"/>
<circle cx="492.2" cy="566.28" r="2.9" class="mk"/>
<circle cx="520.79" cy="591.84" r="2.9" class="mk"/>
<circle cx="549.38" cy="626.71" r="2.9" class="mk"/>
<circle cx="577.97" cy="536.73" r="2.9" class="mk"/>
<circle cx="606.55" cy="546.69" r="2.9" class="mk"/>
<circle cx="635.14" cy="591.51" r="2.9" class="mk"/>
<circle cx="663.73" cy="571.26" r="2.9" class="mk"/>
<line x1="377.85" y1="539.55" x2="663.73" y2="539.55" stroke="#42a5e2" stroke-width="1.5" stroke-dasharray="3.9 3.5"/>
<line x1="377.85" y1="558.47" x2="663.73" y2="558.47" stroke="#12b04f" stroke-width="1.6" stroke-dasharray="3.9 3.5"/>
<line x1="377.85" y1="577.4" x2="663.73" y2="577.4" stroke="#7a7a7a" stroke-width="1.7" stroke-dasharray="6.5 5.5"/>
<line x1="377.85" y1="596.49" x2="663.73" y2="596.49" stroke="#f5821f" stroke-width="1.4" stroke-dasharray="3.9 3.5"/>
<line x1="377.85" y1="615.42" x2="663.73" y2="615.42" stroke="#ee1c24" stroke-width="1.5" stroke-dasharray="3.9 3.5"/></g>
<g><line x1="719.53" y1="660.24" x2="1011.05" y2="660.24" class="gr"/>
<line x1="719.53" y1="633.85" x2="1011.05" y2="633.85" class="gr"/>
<line x1="719.53" y1="607.45" x2="1011.05" y2="607.45" class="gr"/>
<line x1="719.53" y1="581.05" x2="1011.05" y2="581.05" class="gr"/>
<line x1="719.53" y1="554.66" x2="1011.05" y2="554.66" class="gr"/>
<line x1="719.53" y1="528.26" x2="1011.05" y2="528.26" class="gr"/>
<line x1="719.53" y1="501.86" x2="1011.05" y2="501.86" class="gr"/>
<line x1="719.53" y1="501.86" x2="719.53" y2="660.24" class="gr"/>
<line x1="748.68" y1="501.86" x2="748.68" y2="660.24" class="gr"/>
<line x1="777.83" y1="501.86" x2="777.83" y2="660.24" class="gr"/>
<line x1="806.98" y1="501.86" x2="806.98" y2="660.24" class="gr"/>
<line x1="836.14" y1="501.86" x2="836.14" y2="660.24" class="gr"/>
<line x1="865.29" y1="501.86" x2="865.29" y2="660.24" class="gr"/>
<line x1="894.44" y1="501.86" x2="894.44" y2="660.24" class="gr"/>
<line x1="923.59" y1="501.86" x2="923.59" y2="660.24" class="gr"/>
<line x1="952.75" y1="501.86" x2="952.75" y2="660.24" class="gr"/>
<line x1="981.9" y1="501.86" x2="981.9" y2="660.24" class="gr"/>
<line x1="1011.05" y1="501.86" x2="1011.05" y2="660.24" class="gr"/>
<text x="710.43" y="663.04" class="tk" text-anchor="end">60</text>
<text x="710.43" y="636.65" class="tk" text-anchor="end">70</text>
<text x="710.43" y="610.25" class="tk" text-anchor="end">80</text>
<text x="710.43" y="583.85" class="tk" text-anchor="end">90</text>
<text x="710.43" y="557.46" class="tk" text-anchor="end">100</text>
<text x="710.43" y="531.06" class="tk" text-anchor="end">110</text>
<text x="710.43" y="504.66" class="tk" text-anchor="end">120</text>
<text x="719.53" y="675.84" class="tk" text-anchor="middle">2003</text>
<text x="748.68" y="675.84" class="tk" text-anchor="middle">2004</text>
<text x="777.83" y="675.84" class="tk" text-anchor="middle">2005</text>
<text x="806.98" y="675.84" class="tk" text-anchor="middle">2006</text>
<text x="836.14" y="675.84" class="tk" text-anchor="middle">2007</text>
<text x="865.29" y="675.84" class="tk" text-anchor="middle">2008</text>
<text x="894.44" y="675.84" class="tk" text-anchor="middle">2009</text>
<text x="923.59" y="675.84" class="tk" text-anchor="middle">2010</text>
<text x="952.75" y="675.84" class="tk" text-anchor="middle">2011</text>
<text x="981.9" y="675.84" class="tk" text-anchor="middle">2012</text>
<text x="1011.05" y="675.84" class="tk" text-anchor="middle">2013</text>
<text x="865.29" y="692.74" class="yr" text-anchor="middle">Year</text>
<text transform="translate(688.7 581.1) rotate(-90)" class="yt" text-anchor="middle" textLength="128.5" lengthAdjust="spacingAndGlyphs">Monthly precipitation (mm)</text>
<text x="749.1" y="486.5" class="ti" textLength="222.9" lengthAdjust="spacingAndGlyphs">Montly precipitation of September</text>
<polyline points="719.53,618.07 748.68,599.15 777.83,621.06 806.98,604.13 836.14,584.54 865.29,613.76 894.44,620.73 923.59,520.79 952.75,588.19 981.9,582.21 1011.05,640.98" class="ln"/>
<circle cx="719.53" cy="618.07" r="2.9" class="mk"/>
<circle cx="748.68" cy="599.15" r="2.9" class="mk"/>
<circle cx="777.83" cy="621.06" r="2.9" class="mk"/>
<circle cx="806.98" cy="604.13" r="2.9" class="mk"/>
<circle cx="836.14" cy="584.54" r="2.9" class="mk"/>
<circle cx="865.29" cy="613.76" r="2.9" class="mk"/>
<circle cx="894.44" cy="620.73" r="2.9" class="mk"/>
<circle cx="923.59" cy="520.79" r="2.9" class="mk"/>
<circle cx="952.75" cy="588.19" r="2.9" class="mk"/>
<circle cx="981.9" cy="582.21" r="2.9" class="mk"/>
<circle cx="1011.05" cy="640.98" r="2.9" class="mk"/>
<line x1="719.53" y1="555.65" x2="1011.05" y2="555.65" stroke="#42a5e2" stroke-width="1.5" stroke-dasharray="3.9 3.5"/>
<line x1="719.53" y1="577.57" x2="1011.05" y2="577.57" stroke="#12b04f" stroke-width="1.6" stroke-dasharray="3.9 3.5"/>
<line x1="719.53" y1="599.48" x2="1011.05" y2="599.48" stroke="#7a7a7a" stroke-width="1.7" stroke-dasharray="6.5 5.5"/>
<line x1="719.53" y1="621.39" x2="1011.05" y2="621.39" stroke="#f5821f" stroke-width="1.4" stroke-dasharray="3.9 3.5"/>
<line x1="719.53" y1="643.31" x2="1011.05" y2="643.31" stroke="#ee1c24" stroke-width="1.5" stroke-dasharray="3.9 3.5"/></g>
<g><line x1="44.16" y1="884.92" x2="331.7" y2="884.92" class="gr"/>
<line x1="44.16" y1="862.77" x2="331.7" y2="862.77" class="gr"/>
<line x1="44.16" y1="840.62" x2="331.7" y2="840.62" class="gr"/>
<line x1="44.16" y1="818.47" x2="331.7" y2="818.47" class="gr"/>
<line x1="44.16" y1="796.32" x2="331.7" y2="796.32" class="gr"/>
<line x1="44.16" y1="774.17" x2="331.7" y2="774.17" class="gr"/>
<line x1="44.16" y1="752.01" x2="331.7" y2="752.01" class="gr"/>
<line x1="44.16" y1="729.86" x2="331.7" y2="729.86" class="gr"/>
<line x1="44.16" y1="729.86" x2="44.16" y2="884.92" class="gr"/>
<line x1="72.91" y1="729.86" x2="72.91" y2="884.92" class="gr"/>
<line x1="101.67" y1="729.86" x2="101.67" y2="884.92" class="gr"/>
<line x1="130.42" y1="729.86" x2="130.42" y2="884.92" class="gr"/>
<line x1="159.18" y1="729.86" x2="159.18" y2="884.92" class="gr"/>
<line x1="187.93" y1="729.86" x2="187.93" y2="884.92" class="gr"/>
<line x1="216.68" y1="729.86" x2="216.68" y2="884.92" class="gr"/>
<line x1="245.44" y1="729.86" x2="245.44" y2="884.92" class="gr"/>
<line x1="274.19" y1="729.86" x2="274.19" y2="884.92" class="gr"/>
<line x1="302.95" y1="729.86" x2="302.95" y2="884.92" class="gr"/>
<line x1="331.7" y1="729.86" x2="331.7" y2="884.92" class="gr"/>
<text x="35.06" y="887.72" class="tk" text-anchor="end">40</text>
<text x="35.06" y="865.57" class="tk" text-anchor="end">50</text>
<text x="35.06" y="843.42" class="tk" text-anchor="end">60</text>
<text x="35.06" y="821.27" class="tk" text-anchor="end">70</text>
<text x="35.06" y="799.12" class="tk" text-anchor="end">80</text>
<text x="35.06" y="776.97" class="tk" text-anchor="end">90</text>
<text x="35.06" y="754.81" class="tk" text-anchor="end">100</text>
<text x="35.06" y="732.66" class="tk" text-anchor="end">110</text>
<text x="44.16" y="900.52" class="tk" text-anchor="middle">2003</text>
<text x="72.91" y="900.52" class="tk" text-anchor="middle">2004</text>
<text x="101.67" y="900.52" class="tk" text-anchor="middle">2005</text>
<text x="130.42" y="900.52" class="tk" text-anchor="middle">2006</text>
<text x="159.18" y="900.52" class="tk" text-anchor="middle">2007</text>
<text x="187.93" y="900.52" class="tk" text-anchor="middle">2008</text>
<text x="216.68" y="900.52" class="tk" text-anchor="middle">2009</text>
<text x="245.44" y="900.52" class="tk" text-anchor="middle">2010</text>
<text x="274.19" y="900.52" class="tk" text-anchor="middle">2011</text>
<text x="302.95" y="900.52" class="tk" text-anchor="middle">2012</text>
<text x="331.7" y="900.52" class="tk" text-anchor="middle">2013</text>
<text x="187.93" y="917.42" class="yr" text-anchor="middle">Year</text>
<text transform="translate(13.3 807.4) rotate(-90)" class="yt" text-anchor="middle" textLength="128.5" lengthAdjust="spacingAndGlyphs">Monthly precipitation (mm)</text>
<text x="70.15" y="713.9" class="ti" textLength="205.25" lengthAdjust="spacingAndGlyphs">Montly precipitation of October</text>
<polyline points="44.16,821.5 72.91,808.22 101.67,780 130.42,848.07 159.18,804.9 187.93,748.12 216.68,808.55 245.44,759.08 274.19,822.17 302.95,850.72 331.7,873.3" class="ln"/>
<circle cx="44.16" cy="821.5" r="2.9" class="mk"/>
<circle cx="72.91" cy="808.22" r="2.9" class="mk"/>
<circle cx="101.67" cy="780" r="2.9" class="mk"/>
<circle cx="130.42" cy="848.07" r="2.9" class="mk"/>
<circle cx="159.18" cy="804.9" r="2.9" class="mk"/>
<circle cx="187.93" cy="748.12" r="2.9" class="mk"/>
<circle cx="216.68" cy="808.55" r="2.9" class="mk"/>
<circle cx="245.44" cy="759.08" r="2.9" class="mk"/>
<circle cx="274.19" cy="822.17" r="2.9" class="mk"/>
<circle cx="302.95" cy="850.72" r="2.9" class="mk"/>
<circle cx="331.7" cy="873.3" r="2.9" class="mk"/>
<line x1="44.16" y1="778.67" x2="331.7" y2="778.67" stroke="#42a5e2" stroke-width="1.5" stroke-dasharray="3.9 3.5"/>
<line x1="44.16" y1="794.94" x2="331.7" y2="794.94" stroke="#12b04f" stroke-width="1.6" stroke-dasharray="3.9 3.5"/>
<line x1="44.16" y1="811.21" x2="331.7" y2="811.21" stroke="#7a7a7a" stroke-width="1.7" stroke-dasharray="6.5 5.5"/>
<line x1="44.16" y1="827.48" x2="331.7" y2="827.48" stroke="#f5821f" stroke-width="1.4" stroke-dasharray="3.9 3.5"/>
<line x1="44.16" y1="844.08" x2="331.7" y2="844.08" stroke="#ee1c24" stroke-width="1.5" stroke-dasharray="3.9 3.5"/></g>
<g><line x1="384.82" y1="884.92" x2="672.7" y2="884.92" class="gr"/>
<line x1="384.82" y1="859.08" x2="672.7" y2="859.08" class="gr"/>
<line x1="384.82" y1="833.24" x2="672.7" y2="833.24" class="gr"/>
<line x1="384.82" y1="807.39" x2="672.7" y2="807.39" class="gr"/>
<line x1="384.82" y1="781.55" x2="672.7" y2="781.55" class="gr"/>
<line x1="384.82" y1="755.71" x2="672.7" y2="755.71" class="gr"/>
<line x1="384.82" y1="729.86" x2="672.7" y2="729.86" class="gr"/>
<line x1="384.82" y1="729.86" x2="384.82" y2="884.92" class="gr"/>
<line x1="413.61" y1="729.86" x2="413.61" y2="884.92" class="gr"/>
<line x1="442.4" y1="729.86" x2="442.4" y2="884.92" class="gr"/>
<line x1="471.19" y1="729.86" x2="471.19" y2="884.92" class="gr"/>
<line x1="499.97" y1="729.86" x2="499.97" y2="884.92" class="gr"/>
<line x1="528.76" y1="729.86" x2="528.76" y2="884.92" class="gr"/>
<line x1="557.55" y1="729.86" x2="557.55" y2="884.92" class="gr"/>
<line x1="586.33" y1="729.86" x2="586.33" y2="884.92" class="gr"/>
<line x1="615.12" y1="729.86" x2="615.12" y2="884.92" class="gr"/>
<line x1="643.91" y1="729.86" x2="643.91" y2="884.92" class="gr"/>
<line x1="672.7" y1="729.86" x2="672.7" y2="884.92" class="gr"/>
<text x="375.42" y="887.72" class="tk" text-anchor="end">20</text>
<text x="375.42" y="861.88" class="tk" text-anchor="end">30</text>
<text x="375.42" y="836.04" class="tk" text-anchor="end">40</text>
<text x="375.42" y="810.19" class="tk" text-anchor="end">50</text>
<text x="375.42" y="784.35" class="tk" text-anchor="end">60</text>
<text x="375.42" y="758.51" class="tk" text-anchor="end">70</text>
<text x="375.42" y="732.66" class="tk" text-anchor="end">80</text>
<text x="384.82" y="900.52" class="tk" text-anchor="middle">2003</text>
<text x="413.61" y="900.52" class="tk" text-anchor="middle">2004</text>
<text x="442.4" y="900.52" class="tk" text-anchor="middle">2005</text>
<text x="471.19" y="900.52" class="tk" text-anchor="middle">2006</text>
<text x="499.97" y="900.52" class="tk" text-anchor="middle">2007</text>
<text x="528.76" y="900.52" class="tk" text-anchor="middle">2008</text>
<text x="557.55" y="900.52" class="tk" text-anchor="middle">2009</text>
<text x="586.33" y="900.52" class="tk" text-anchor="middle">2010</text>
<text x="615.12" y="900.52" class="tk" text-anchor="middle">2011</text>
<text x="643.91" y="900.52" class="tk" text-anchor="middle">2012</text>
<text x="672.7" y="900.52" class="tk" text-anchor="middle">2013</text>
<text x="528.76" y="917.42" class="yr" text-anchor="middle">Year</text>
<text transform="translate(358.5 807.9) rotate(-90)" class="yt" text-anchor="middle" textLength="128.5" lengthAdjust="spacingAndGlyphs">Monthly precipitation (mm)</text>
<text x="413.9" y="713.9" class="ti" textLength="220.4" lengthAdjust="spacingAndGlyphs">Montly precipitation of November</text>
<polyline points="384.82,804.57 413.61,814.2 442.4,759.08 471.19,816.52 499.97,791.95 528.76,775.68 557.55,856.7 586.33,767.71 615.12,880.94 643.91,794.61 672.7,789.96" class="ln"/>
<circle cx="384.82" cy="804.57" r="2.9" class="mk"/>
<circle cx="413.61" cy="814.2" r="2.9" class="mk"/>
<circle cx="442.4" cy="759.08" r="2.9" class="mk"/>
<circle cx="471.19" cy="816.52" r="2.9" class="mk"/>
<circle cx="499.97" cy="791.95" r="2.9" class="mk"/>
<circle cx="528.76" cy="775.68" r="2.9" class="mk"/>
<circle cx="557.55" cy="856.7" r="2.9" class="mk"/>
<circle cx="586.33" cy="767.71" r="2.9" class="mk"/>
<circle cx="615.12" cy="880.94" r="2.9" class="mk"/>
<circle cx="643.91" cy="794.61" r="2.9" class="mk"/>
<circle cx="672.7" cy="789.96" r="2.9" class="mk"/>
<line x1="384.82" y1="778.34" x2="672.7" y2="778.34" stroke="#42a5e2" stroke-width="1.5" stroke-dasharray="3.9 3.5"/>
<line x1="384.82" y1="791.62" x2="672.7" y2="791.62" stroke="#12b04f" stroke-width="1.6" stroke-dasharray="3.9 3.5"/>
<line x1="384.82" y1="804.57" x2="672.7" y2="804.57" stroke="#7a7a7a" stroke-width="1.7" stroke-dasharray="6.5 5.5"/>
<line x1="384.82" y1="817.85" x2="672.7" y2="817.85" stroke="#f5821f" stroke-width="1.4" stroke-dasharray="3.9 3.5"/>
<line x1="384.82" y1="831.13" x2="672.7" y2="831.13" stroke="#ee1c24" stroke-width="1.5" stroke-dasharray="3.9 3.5"/></g>
<g><line x1="714.55" y1="884.92" x2="1010.72" y2="884.92" class="gr"/>
<line x1="714.55" y1="853.78" x2="1010.72" y2="853.78" class="gr"/>
<line x1="714.55" y1="822.63" x2="1010.72" y2="822.63" class="gr"/>
<line x1="714.55" y1="791.49" x2="1010.72" y2="791.49" class="gr"/>
<line x1="714.55" y1="760.34" x2="1010.72" y2="760.34" class="gr"/>
<line x1="714.55" y1="729.2" x2="1010.72" y2="729.2" class="gr"/>
<line x1="714.55" y1="729.2" x2="714.55" y2="884.92" class="gr"/>
<line x1="744.16" y1="729.2" x2="744.16" y2="884.92" class="gr"/>
<line x1="773.78" y1="729.2" x2="773.78" y2="884.92" class="gr"/>
<line x1="803.4" y1="729.2" x2="803.4" y2="884.92" class="gr"/>
<line x1="833.02" y1="729.2" x2="833.02" y2="884.92" class="gr"/>
<line x1="862.63" y1="729.2" x2="862.63" y2="884.92" class="gr"/>
<line x1="892.25" y1="729.2" x2="892.25" y2="884.92" class="gr"/>
<line x1="921.87" y1="729.2" x2="921.87" y2="884.92" class="gr"/>
<line x1="951.48" y1="729.2" x2="951.48" y2="884.92" class="gr"/>
<line x1="981.1" y1="729.2" x2="981.1" y2="884.92" class="gr"/>
<line x1="1010.72" y1="729.2" x2="1010.72" y2="884.92" class="gr"/>
<text x="705.75" y="887.72" class="tk" text-anchor="end">10</text>
<text x="705.75" y="856.58" class="tk" text-anchor="end">20</text>
<text x="705.75" y="825.43" class="tk" text-anchor="end">30</text>
<text x="705.75" y="794.29" class="tk" text-anchor="end">40</text>
<text x="705.75" y="763.14" class="tk" text-anchor="end">50</text>
<text x="705.75" y="732" class="tk" text-anchor="end">60</text>
<text x="714.55" y="900.52" class="tk" text-anchor="middle">2003</text>
<text x="744.16" y="900.52" class="tk" text-anchor="middle">2004</text>
<text x="773.78" y="900.52" class="tk" text-anchor="middle">2005</text>
<text x="803.4" y="900.52" class="tk" text-anchor="middle">2006</text>
<text x="833.02" y="900.52" class="tk" text-anchor="middle">2007</text>
<text x="862.63" y="900.52" class="tk" text-anchor="middle">2008</text>
<text x="892.25" y="900.52" class="tk" text-anchor="middle">2009</text>
<text x="921.87" y="900.52" class="tk" text-anchor="middle">2010</text>
<text x="951.48" y="900.52" class="tk" text-anchor="middle">2011</text>
<text x="981.1" y="900.52" class="tk" text-anchor="middle">2012</text>
<text x="1010.72" y="900.52" class="tk" text-anchor="middle">2013</text>
<text x="862.63" y="917.42" class="yr" text-anchor="middle">Year</text>
<text transform="translate(688.6 807.4) rotate(-90)" class="yt" text-anchor="middle" textLength="128.5" lengthAdjust="spacingAndGlyphs">Monthly precipitation (mm)</text>
<text x="752.3" y="713" class="ti" textLength="218.7" lengthAdjust="spacingAndGlyphs">Montly precipitation of December</text>
<polyline points="714.55,837.11 744.16,863.01 773.78,845.41 803.4,855.37 833.02,754.1 862.63,777.01 892.25,793.28 921.87,773.69 951.48,822.83 981.1,796.27 1010.72,825.16" class="ln"/>
<circle cx="714.55" cy="837.11" r="2.9" class="mk"/>
<circle cx="744.16" cy="863.01" r="2.9" class="mk"/>
<circle cx="773.78" cy="845.41" r="2.9" class="mk"/>
<circle cx="803.4" cy="855.37" r="2.9" class="mk"/>
<circle cx="833.02" cy="754.1" r="2.9" class="mk"/>
<circle cx="862.63" cy="777.01" r="2.9" class="mk"/>
<circle cx="892.25" cy="793.28" r="2.9" class="mk"/>
<circle cx="921.87" cy="773.69" r="2.9" class="mk"/>
<circle cx="951.48" cy="822.83" r="2.9" class="mk"/>
<circle cx="981.1" cy="796.27" r="2.9" class="mk"/>
<circle cx="1010.72" cy="825.16" r="2.9" class="mk"/>
<line x1="714.55" y1="792.29" x2="1010.72" y2="792.29" stroke="#42a5e2" stroke-width="1.5" stroke-dasharray="3.9 3.5"/>
<line x1="714.55" y1="802.58" x2="1010.72" y2="802.58" stroke="#12b04f" stroke-width="1.6" stroke-dasharray="3.9 3.5"/>
<line x1="714.55" y1="812.87" x2="1010.72" y2="812.87" stroke="#7a7a7a" stroke-width="1.7" stroke-dasharray="6.5 5.5"/>
<line x1="714.55" y1="823.16" x2="1010.72" y2="823.16" stroke="#f5821f" stroke-width="1.4" stroke-dasharray="3.9 3.5"/>
<line x1="714.55" y1="833.79" x2="1010.72" y2="833.79" stroke="#ee1c24" stroke-width="1.5" stroke-dasharray="3.9 3.5"/></g>
</svg>
</body></html>
